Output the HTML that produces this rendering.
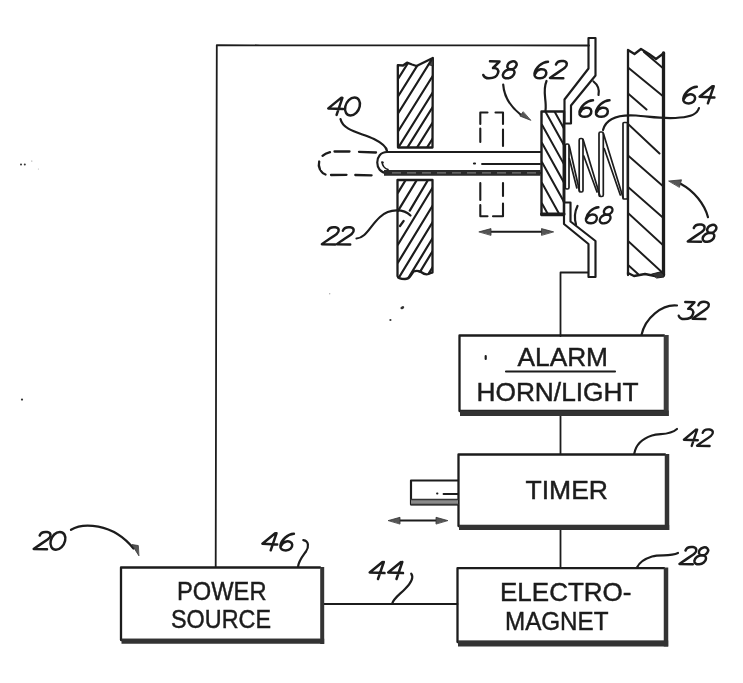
<!DOCTYPE html>
<html><head><meta charset="utf-8">
<style>
html,body{margin:0;padding:0;background:#fff;}
body{width:743px;height:683px;overflow:hidden;}
svg{display:block;filter:grayscale(1);}
text{font-family:"Liberation Sans",sans-serif;fill:#1a1a1a;}
</style></head><body>
<svg width="743" height="683" viewBox="0 0 743 683">
<defs>
  <!-- hand-lettered italic digits; origin = bottom-left of ink box, ~17x19.500 px -->
  <path id="d0" d="M0,0 m9.200,-9.700 m-7.200,0 a6.300,8.700 28 1,0 14.400,0 a6.300,8.700 28 1,0 -14.400,0" transform="translate(-0.500,0)"/>
  <path id="d2" d="M7.500,-15 C8.500,-17.800 12,-18.800 15,-18.400 C19,-17.800 19.300,-14.200 16.300,-11.800 C12,-8.500 6,-5 1.500,-1.500 L14.800,-1.300"/>
  <path id="d3" d="M8,-18.200 L17.500,-18 L11,-11.500 C15,-12 17,-9.500 16,-6.500 C15,-3 11,-1.200 7,-1.200 C4,-1.200 2,-2.500 1.300,-4.500"/>
  <path id="d4" d="M14.300,-18.300 L1.500,-7.800 L16.300,-7.200 M15.600,-18.300 L9.800,-1.300"/>
  <path id="d6" d="M15,-17.800 C8.500,-17.500 2.500,-11.500 1.500,-6 C0.900,-2.500 3.500,-1.200 7,-1.200 C11,-1.200 13.600,-4 13.300,-7 C13,-9.800 10,-10.700 7.500,-10.200 C5,-9.700 3,-8 2.200,-5.800"/>
  <path id="d8" d="M8.500,-10.300 C5.500,-10.500 5.300,-13.500 6.800,-15.700 C8.500,-18.200 12.500,-19 14.300,-17.200 C16,-15.500 15,-12.500 12.500,-11 C11,-10.200 9.800,-10.200 8.500,-10.300 C5,-10.200 1.800,-7.500 1.400,-4.800 C1,-2 3.500,-1.100 6.200,-1.200 C9.500,-1.300 12.800,-3.800 13,-6.800 C13.200,-9 11.500,-10.300 8.500,-10.300 Z"/>
  <clipPath id="cLW1"><path d="M397.800,65.200 L403,65.500 L407,62.700 L412,64.500 L416.500,66 L432.800,58 L432.500,147.500 L398,147.500 Z"/></clipPath>
  <clipPath id="cLW2"><path d="M397.500,180 L432.500,180 L432.500,273 L426,274 L414,271.500 L409.500,278.500 L397.500,278.500 Z"/></clipPath>
  <clipPath id="cRW"><path d="M628,50 L664,50 L664,275 L628,275 Z"/></clipPath>
  <clipPath id="cB62"><path d="M541.500,111.500 L564,111.500 L564,215 L541.500,215 Z"/></clipPath>
</defs>
<rect width="743" height="683" fill="#fff"/>
<g fill="none" stroke="#1c1c1c" stroke-width="2.41" stroke-linecap="round" stroke-linejoin="round">

<!-- main loop wire -->
<g stroke-width="1.800">
<path d="M589,45.500 L260,45.300 L216.800,45.100 L216.200,300 L215.700,567"/>
<path d="M588,272.500 L560.500,272.500 L560.500,336"/>
<path d="M560.500,416 L560.500,454"/>
<path d="M560.500,530 L560.500,568"/>
<path d="M324,604 L457.500,604"/>
</g>

<!-- left wall 22 -->
<path d="M397.800,65.200 L403,65.500 L407,62.700 L412,64.500 L416.500,66 L432.800,58 L432.500,147.500 L398,147.500 Z" stroke-width="2.300"/>
<path d="M432.800,58 L428,64.500 L432.800,66 Z" fill="#444" stroke-width="0.800"/>
<g clip-path="url(#cLW1)" stroke-width="2.200">
  <path d="M398,79 l35,-56 M398,96.5 l35,-56 M398,113.5 l35,-56 M398,131.5 l35,-56 M398,148 l35,-56 M398,162.5 l35,-56 M398,178 l35,-56 M398,194 l35,-56"/>
</g>
<path d="M432.500,272.500 L432.500,180 L397.500,180 L397.500,276 C398,278.500 402,279 405,279 C407.500,279 409,278 410,276.500 L413.500,271.500 C416,270.500 419,271 421,272 C423,273.500 426,275 428.500,274 C430.500,273 431.500,272.500 432.500,272.500" stroke-width="2.300"/>
<g clip-path="url(#cLW2)" stroke-width="2.200">
  <path d="M398,192.6 l35,-57.500 M398,210.9 l35,-57.500 M398,244.5 l35,-57.500 M398,262.5 l35,-57.500 M398,279 l35,-57.500 M398,295 l35,-57.500 M398,308 l35,-57.500 M398,324 l35,-57.500 M409.800,210.600 L428,180 M400,226 L403.600,221"/>
</g>

<!-- rod 40 -->
<path d="M540.500,152 L387,152 C374,152 374,173 387,173 L540.500,173" stroke-width="2.17"/>
<path d="M384,172.900 L540.500,172.900" stroke-width="5.700" stroke="#2a2a2a" stroke-linecap="butt"/><path d="M392,172.900 L540.500,172.900" stroke-width="1.200" stroke="#777" stroke-linecap="butt" stroke-dasharray="9,6"/>
<path d="M482,164 L540,164" stroke-width="1.82"/>
<path d="M474,163.500 l1,0" stroke-width="2.17"/>
<path d="M382,162 C382.500,166 384.500,168.500 388,169.500" stroke-width="1.600"/><path d="M382.500,162.500 l0.300,0" stroke-width="2.200"/>
<!-- dashed extension -->
<path d="M376,152.500 L359,151.800 M349.500,151.500 L334.500,151.500 M330,152.200 C327,153 324.500,154 322.500,155.800 M319.200,161.500 C318.500,164 318.800,167 320,169.500 M321,171 C322,172.800 323.500,173.800 325.500,174.500 M331,175 L346.500,174.800 M355.300,175 L371.600,175.300" stroke-width="2.300"/>
<!-- dashed rectangle -->
<path d="M487.500,112.500 L480.300,112.500 L480.300,124 M480.300,128.500 L480.300,142 M495.500,112.500 L503,112.500 L503,124 M503,129.500 L503,146" stroke-width="2.100"/>
<path d="M480.300,183 L480.300,200 M480.300,205 L480.300,216.200 L487.500,216.200 M493,216.200 L503,216.200 L503,203.500 M503,196 L503,183" stroke-width="2.100"/>
<!-- double arrow under dashed rect -->
<path d="M488,231.800 L545,231.800" stroke-width="2"/>
<path d="M479.200,231.800 L491,228.600 L491,235 Z M553.300,231.800 L541.500,228.600 L541.500,235 Z" fill="#555" stroke="#333" stroke-width="0.800"/>

<!-- block 62 -->
<path d="M541.500,111.500 L564,111.500 L564,215 L541.500,215 Z" stroke-width="2.41"/>
<g clip-path="url(#cB62)" stroke-width="2">
  <path d="M542,89 l24,43.200 M542,105.5 l24,43.200 M542,124.7 l24,43.200 M542,143 l24,43.200 M542,162.3 l24,43.200 M542,183 l24,43.200 M542,203.5 l24,43.200"/>
</g>
<path d="M541.500,214 L564,214" stroke-width="3.0"/>

<!-- bent plate 66/68 -->
<path d="M588.500,38 L595.500,38 L595.500,75.500 L571,105.500 L571,123.500 L564.500,123.500 L564.500,99.500 L588.500,68.500 Z" stroke-width="2.17"/>
<path d="M564,124 L564,202" stroke-width="2.65"/>
<path d="M564,202.500 L570.500,202.500 L570.500,221.500 L595.500,241 L595.500,277 L588.500,277 L588.500,244 L564,224 Z" stroke-width="2.17"/>

<!-- spring 64 -->
<g stroke-width="1.700">
<rect x="565.300" y="144" width="3.700" height="45" rx="1.500"/>
<path d="M569.300,146 L579.600,191.500 M569.300,158.500 L576.800,188"/>
<rect x="579.200" y="138.500" width="3.800" height="53.500" rx="1.500"/>
<path d="M583.100,139.500 L600,196 M583.800,156 L597,192"/>
<rect x="599" y="132" width="4.300" height="64.500" rx="1.500"/>
<path d="M603.400,133.500 L623.200,198 M604.200,148.500 L620.300,195"/>
<rect x="623" y="122.500" width="4.500" height="76.500" rx="1"/>
</g>

<!-- right wall 28 -->
<path d="M628,275 L628,50 L634.500,54 L641,49 L649,54 L656,59 L664,53" stroke-width="2.29"/>
<path d="M663.500,53 L663.500,275" stroke-width="3.300"/>
<path d="M628,273 L634,276 L645,274 L655,276 L664,275" stroke-width="2.41"/>
<path d="M652,274 L664,271 L664,277 L657,278 Z" fill="#333" stroke-width="1.0"/>
<g clip-path="url(#cRW)" stroke-width="2">
  <path d="M644,52 L664,69 M628,67.500 L664,97 M628,93.500 L646.500,109.500 M628,124 L659.500,153.500 M628,155.500 L664,187 M628,187 L664,218.500 M628,213 L664,246 M628,241 L664,274 M628,265 L638,274"/>
</g>

<!-- boxes -->
<path d="M664,335.500 L459.500,335.500 L459.500,411 L664,411" stroke-width="2.300"/>
<path d="M666.200,335 L666.200,416" stroke-width="5" stroke="#3c3c3c" stroke-linecap="butt"/>
<path d="M460,413.300 L668.700,413.300" stroke-width="5.500" stroke="#333" stroke-linecap="butt"/>
<path d="M665,454.500 L458.500,454.500 L458.500,526 L665,526" stroke-width="2.300"/>
<path d="M667,454 L667,530" stroke-width="4.500" stroke="#333" stroke-linecap="butt"/>
<path d="M459,527.500 L669.200,527.500" stroke-width="5" stroke="#333" stroke-linecap="butt"/>
<path d="M664,568.200 L457.500,568.200 L457.500,642 L664,642" stroke-width="2.300"/>
<path d="M666,567.500 L666,646.500" stroke-width="4.500" stroke="#333" stroke-linecap="butt"/>
<path d="M458,643.500 L668.200,643.500" stroke-width="6" stroke="#333" stroke-linecap="butt"/>
<path d="M320,567.500 L121,567.500 L121,640 L320,640" stroke-width="2.300"/>
<path d="M322.200,567 L322.200,644" stroke-width="4" stroke="#333" stroke-linecap="butt"/>
<path d="M121.500,641.200 L324.200,641.200" stroke-width="5" stroke="#333" stroke-linecap="butt"/>

<!-- alarm underline -->
<path d="M506,371.500 L615,371.500" stroke-width="2.17"/>
<path d="M485.700,356 l0,3" stroke-width="2.17"/>

<!-- timer plunger -->
<path d="M458,480.500 L411,480.500 L411,504.500 L458,504.500" stroke-width="2.17"/>
<path d="M411,502 L458,502" stroke-width="5" stroke="#8a8a8a" stroke-linecap="butt"/><path d="M411,499.500 L458,499.500 M411,504.500 L458,504.500" stroke-width="1.500" stroke="#333"/>
<path d="M443.500,494 L458,494 M437,493.500 l0.500,0" stroke-width="1.82"/>
<path d="M397,520.500 L439,520.500" stroke-width="2"/>
<path d="M388.500,520.500 L400,517.300 L400,523.700 Z M447.500,520.500 L436,517.300 L436,523.700 Z" fill="#555" stroke="#333" stroke-width="0.800"/>

<!-- leaders -->
<g stroke-width="2.200">
<path d="M340.500,119 C343,131 362,133 374,139 C382,143 386.500,147 387,151"/>
<path d="M356.500,238.500 C366,238 370,226 380,217 C390,208 404,209 410.500,215.500"/>
<path d="M503.200,84.700 C504,96 511,107 520.500,114.500"/>
<path d="M546.500,81 C542,92 547,100 545.500,110.500"/>
<path d="M593.500,81.500 C598,85 599.500,90 598.500,95"/>
<path d="M699,108 C697,115 690,117 680,117.500 C665,119.500 650,116.500 636,115.500 C620,114.500 606,118 603,130"/>
<path d="M577.500,206 C574.500,212 574.500,219 576,224.500"/>
<path d="M708,217.200 C704.500,204 694,191 681,184"/>
<path d="M677,305.500 C662,304 645,318 641.500,335"/>
<path d="M677,429 C669,436 660,433 652,435.500 C641,439 635.500,446 634.200,454"/>
<path d="M678,553 C670,557 660,554 652,556.500 C644,559 639,563 637,567.500"/>
<path d="M303.300,540.200 C309,541 309,547 306,551.500 C302,557 298.500,561 298,567"/>
<path d="M411.200,573.600 C414.500,578 410,584 405,589 C399,595 393,599 392,604"/>
<path d="M71,529.800 C82,523 112,522 133.500,548.500"/>
</g>
<g fill="#555" stroke="#333" stroke-width="0.800">
<path d="M530.500,120.200 L519.800,116 L523,112 Z"/>
<path d="M669,181 L681.500,179.800 L679.500,187 Z"/>
<path d="M138.700,555.500 L131.800,544.500 L138,545.500 Z"/>
</g>
</g>

<!-- handwritten numeric labels -->
<g fill="none" stroke="#1c1c1c" stroke-width="2.500" stroke-linecap="round" stroke-linejoin="round">
  <g transform="translate(482,79.5) scale(1,1)"><use href="#d3"/><use href="#d8" x="19.5"/></g>
  <g transform="translate(533,79.5) scale(1,1)"><use href="#d6"/><use href="#d2" x="15.5"/></g>
  <g transform="translate(578,118) scale(1,1)"><use href="#d6"/><use href="#d6" x="16.5"/></g>
  <g transform="translate(681.8,104.6) scale(1,1)"><use href="#d6"/><use href="#d4" x="16.3"/></g>
  <g transform="translate(326.8,116.2) scale(1,1)"><use href="#d4"/><use href="#d0" x="17"/></g>
  <g transform="translate(320.4,245.7) scale(1,1)"><use href="#d2"/><use href="#d2" x="15"/></g>
  <g transform="translate(584.500,224.500) scale(0.930,0.970)"><use href="#d6"/><use href="#d8" x="15"/></g>
  <g transform="translate(686.3,243) scale(1,1)"><use href="#d2"/><use href="#d8" x="15"/></g>
  <g transform="translate(677.500,320.300) scale(0.970,1)"><use href="#d3"/><use href="#d2" x="14"/></g>
  <g transform="translate(682.500,447.200) scale(0.940,0.960)"><use href="#d4"/><use href="#d2" x="14"/></g>
  <g transform="translate(678,565.5) scale(1,1)"><use href="#d2"/><use href="#d8" x="15"/></g>
  <g transform="translate(260.9,551.6) scale(1,1)"><use href="#d4"/><use href="#d6" x="18"/></g>
  <g transform="translate(368.2,580.3) scale(1,1)"><use href="#d4"/><use href="#d4" x="18.5"/></g>
  <g transform="translate(32.2,550.5) scale(1,1)"><use href="#d2"/><use href="#d0" x="17"/></g>
</g>

<!-- box text -->
<g font-size="25" stroke="#1a1a1a" stroke-width="0.450" style="opacity:0.990">
  <text x="517.500" y="366" textLength="90.500" lengthAdjust="spacingAndGlyphs">ALARM</text>
  <text x="476.500" y="400.500" textLength="162" lengthAdjust="spacingAndGlyphs">HORN/LIGHT</text>
  <text x="525.500" y="499" textLength="82.500" lengthAdjust="spacingAndGlyphs">TIMER</text>
  <text x="500" y="600.500" textLength="131.500" lengthAdjust="spacingAndGlyphs">ELECTRO-</text>
  <text x="505" y="630" textLength="103.500" lengthAdjust="spacingAndGlyphs">MAGNET</text>
  <text x="177" y="600" textLength="89.500" lengthAdjust="spacingAndGlyphs">POWER</text>
  <text x="171" y="627.500" textLength="100" lengthAdjust="spacingAndGlyphs">SOURCE</text>
</g>

<!-- scan specks -->
<g fill="#333">
  <circle cx="21" cy="164.500" r="1"/><circle cx="24.800" cy="164.500" r="1"/><circle cx="31.800" cy="161" r="0.600" fill="#888"/><circle cx="38.400" cy="169" r="0.500" fill="#aaa"/>
  <ellipse cx="402.300" cy="307.700" rx="2" ry="1.400" transform="rotate(-25 402.300 307.700)"/><circle cx="390.400" cy="320" r="1.100"/><circle cx="329.700" cy="293.700" r="0.700" fill="#aaa"/>
  <circle cx="22" cy="399.600" r="1.100"/>
</g>
</svg>
</body></html>
